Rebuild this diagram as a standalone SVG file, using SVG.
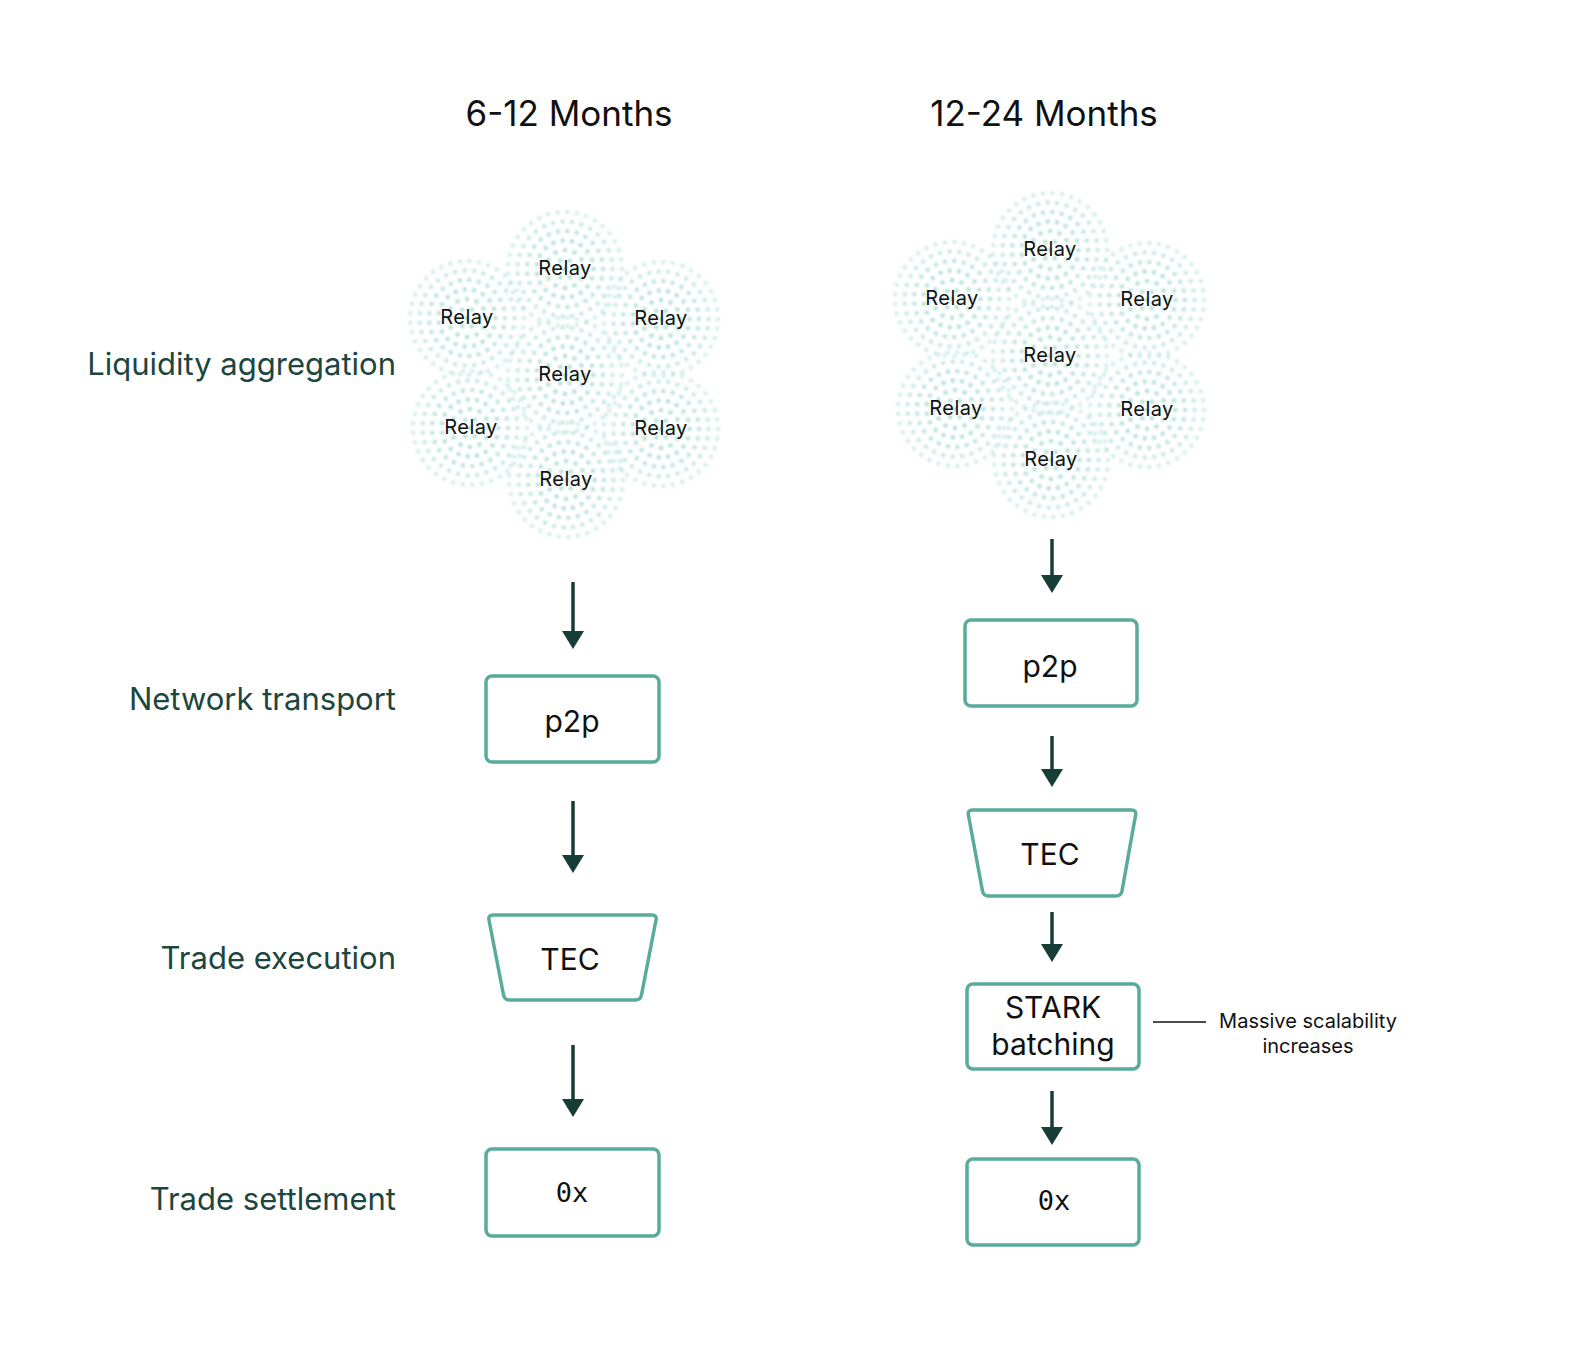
<svg xmlns="http://www.w3.org/2000/svg" xmlns:xlink="http://www.w3.org/1999/xlink" width="1590" height="1360" viewBox="0 0 1590 1360">
<style>
  text { font-family: Inter, "Liberation Sans", sans-serif; }
  .title { font-size: 35px; fill: #111111; text-anchor: middle; }
  .lbl { font-size: 31px; fill: #1c4640; text-anchor: end; }
  .relay { font-size: 20px; fill: #111111; text-anchor: middle; letter-spacing: 0.4px; }
  .box { fill: #ffffff; stroke: #5aab9b; stroke-width: 3.5; stroke-linejoin: round; }
  .bt { font-size: 30px; fill: #111111; text-anchor: middle; }
  .mono { font-family: "DejaVu Sans Mono", "Liberation Mono", monospace; font-size: 27px; fill: #111111; text-anchor: middle; }
  .arrow { stroke: #173d37; stroke-width: 3.5; fill: none; marker-end: url(#ah); }
  .note { font-size: 20px; fill: #111111; text-anchor: middle; }
  .ring { fill: none; stroke: #84cdbf; stroke-width: 4.6; stroke-linecap: round; stroke-dasharray: 0 1; }
</style>
<defs>
  <marker id="ah" viewBox="0 0 18 22" refX="0" refY="11" markerWidth="18" markerHeight="22" markerUnits="userSpaceOnUse" orient="auto">
    <path d="M0,0 L18,11 L0,22 Z" fill="#173d37"/>
  </marker>
  <filter id="soft" x="-10%" y="-10%" width="120%" height="120%">
    <feGaussianBlur stdDeviation="1"/>
  </filter>
  <g id="ht">
    <circle r="2.3" fill="#84cdbf"/>
    <circle class="ring" r="9.5" pathLength="6"/>
    <circle class="ring" r="19" pathLength="12"/>
    <circle class="ring" r="28.5" pathLength="19" opacity="0.95"/>
    <circle class="ring" r="38" pathLength="25" opacity="0.85"/>
    <circle class="ring" r="47.5" pathLength="31" opacity="0.7"/>
    <circle class="ring" r="57" pathLength="37" opacity="0.55"/>
  </g>
</defs>
<rect width="1590" height="1360" fill="#ffffff"/>

<g id="titles">
  <text class="title" x="569" y="126">6-12 Months</text>
  <text class="title" x="1044" y="126">12-24 Months</text>
</g>

<g id="row-labels">
  <text class="lbl" x="396" y="375">Liquidity aggregation</text>
  <text class="lbl" x="396" y="710">Network transport</text>
  <text class="lbl" x="396" y="969">Trade execution</text>
  <text class="lbl" x="396" y="1210">Trade settlement</text>
</g>

<g id="cloud-left">
  <g filter="url(#soft)">
    <use href="#ht" x="565" y="269" opacity="0.62"/>
    <use href="#ht" x="467" y="318" opacity="0.62"/>
    <use href="#ht" x="661" y="319" opacity="0.62"/>
    <use href="#ht" x="565" y="375" opacity="0.62"/>
    <use href="#ht" x="470" y="428" opacity="0.62"/>
    <use href="#ht" x="661" y="429" opacity="0.62"/>
    <use href="#ht" x="566" y="480" opacity="0.62"/>
  </g>
  <text class="relay" x="565" y="275">Relay</text>
  <text class="relay" x="467" y="324">Relay</text>
  <text class="relay" x="661" y="325">Relay</text>
  <text class="relay" x="565" y="381">Relay</text>
  <text class="relay" x="471" y="434">Relay</text>
  <text class="relay" x="661" y="435">Relay</text>
  <text class="relay" x="566" y="486">Relay</text>
</g>

<g id="cloud-right">
  <g filter="url(#soft)">
    <use href="#ht" x="1050" y="250" opacity="0.62"/>
    <use href="#ht" x="952" y="299" opacity="0.62"/>
    <use href="#ht" x="1147" y="300" opacity="0.62"/>
    <use href="#ht" x="1050" y="356" opacity="0.62"/>
    <use href="#ht" x="955" y="409" opacity="0.62"/>
    <use href="#ht" x="1147" y="410" opacity="0.62"/>
    <use href="#ht" x="1051" y="460" opacity="0.62"/>
  </g>
  <text class="relay" x="1050" y="256">Relay</text>
  <text class="relay" x="952" y="305">Relay</text>
  <text class="relay" x="1147" y="306">Relay</text>
  <text class="relay" x="1050" y="362">Relay</text>
  <text class="relay" x="956" y="415">Relay</text>
  <text class="relay" x="1147" y="416">Relay</text>
  <text class="relay" x="1051" y="466">Relay</text>
</g>

<g id="connectors">
  <line class="arrow" x1="573" y1="582" x2="573" y2="631"/>
  <line class="arrow" x1="573" y1="801" x2="573" y2="855"/>
  <line class="arrow" x1="573" y1="1045" x2="573" y2="1099"/>
  <line class="arrow" x1="1052" y1="539" x2="1052" y2="575"/>
  <line class="arrow" x1="1052" y1="736" x2="1052" y2="769"/>
  <line class="arrow" x1="1052" y1="912" x2="1052" y2="944"/>
  <line class="arrow" x1="1052" y1="1091" x2="1052" y2="1127"/>
  <line x1="1153" y1="1022" x2="1206" y2="1022" stroke="#111111" stroke-width="1.6"/>
</g>

<g id="left-p2p">
  <rect class="box" x="486" y="676" width="173" height="86" rx="6"/>
  <text class="bt" x="572" y="732">p2p</text>
</g>
<g id="left-tec">
  <path class="box" d="M493,915 L652,915 Q657,915 656,920 L641.5,995 Q640.5,1000 635.5,1000 L509.5,1000 Q504.5,1000 503.5,995 L489,920 Q488,915 493,915 Z"/>
  <text class="bt" x="570" y="970">TEC</text>
</g>
<g id="left-0x">
  <rect class="box" x="486" y="1149" width="173" height="87" rx="6"/>
  <text class="mono" x="572" y="1202">0x</text>
</g>

<g id="right-p2p">
  <rect class="box" x="965" y="620" width="172" height="86" rx="6"/>
  <text class="bt" x="1050" y="677">p2p</text>
</g>
<g id="right-tec">
  <path class="box" d="M972.5,810 L1131.5,810 Q1136.5,810 1135.6,815 L1122,891 Q1121,896 1116,896 L988.5,896 Q983.5,896 982.5,891 L968.4,815 Q967.5,810 972.5,810 Z"/>
  <text class="bt" x="1050" y="865">TEC</text>
</g>
<g id="right-stark">
  <rect class="box" x="967" y="984" width="172" height="85" rx="6"/>
  <text class="bt" x="1053" y="1018">STARK</text>
  <text class="bt" x="1053" y="1055">batching</text>
</g>
<g id="right-0x">
  <rect class="box" x="967" y="1159" width="172" height="86" rx="6"/>
  <text class="mono" x="1054" y="1210">0x</text>
</g>

<g id="note">
  <text class="note" x="1308" y="1028">Massive scalability</text>
  <text class="note" x="1308" y="1053">increases</text>
</g>
</svg>
